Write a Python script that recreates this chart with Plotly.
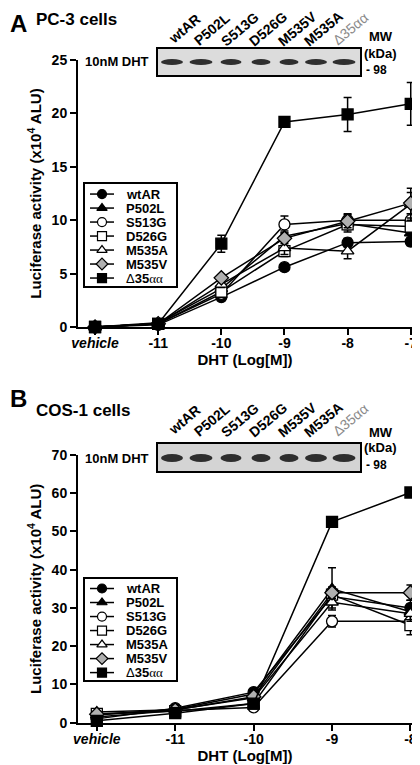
import plotly.graph_objects as go

W, H = 420, 765
# the page puts the figure 8 px in from the top-left corner; layout below
# is written in window pixels and shifted back by this amount
OFF = 8

# --- data -------------------------------------------------------------
doses_a = ["vehicle", "-11", "-10", "-9", "-8", "-7"]
doses_b = ["vehicle", "-11", "-10", "-9", "-8"]
names = ["wtAR", "P502L", "S513G", "D526G", "M535A", "M535V", "Δ35αα"]

# PC-3 cells (x10^4 ALU)
pc3_wtAR = [0.0, 0.2, 2.8, 5.6, 7.9, 8.0]
pc3_P502L = [0.0, 0.4, 3.6, 8.5, 9.7, 8.8]
pc3_S513G = [0.0, 0.3, 3.1, 9.6, 10.0, 10.0]
pc3_D526G = [0.0, 0.3, 3.3, 7.1, 9.6, 9.4]
pc3_M535A = [0.0, 0.3, 4.0, 7.4, 7.1, 11.5]
pc3_M535V = [0.0, 0.3, 4.6, 8.3, 9.9, 11.6]
pc3_D35 = [0.0, 0.3, 7.8, 19.2, 19.9, 20.9]

pc3_err_wtAR = [0.05, 0.1, 0.3, 0.3, 0.4, 0.4]
pc3_err_P502L = [0.05, 0.1, 0.4, 0.5, 0.6, 0.8]
pc3_err_S513G = [0.05, 0.1, 0.3, 0.8, 0.6, 0.6]
pc3_err_D526G = [0.05, 0.1, 0.3, 0.5, 0.7, 0.8]
pc3_err_M535A = [0.05, 0.1, 0.3, 0.6, 0.7, 1.5]
pc3_err_M535V = [0.05, 0.1, 0.3, 0.5, 0.6, 1.0]
pc3_err_D35 = [0.05, 0.1, 0.8, 0.3, 1.6, 2.0]

# COS-1 cells (x10^4 ALU)
cos_wtAR = [1.0, 3.8, 8.0, 33.0, 30.0]
cos_P502L = [2.0, 3.5, 7.5, 35.0, 29.0]
cos_S513G = [1.5, 3.2, 4.0, 26.5, 26.5]
cos_D526G = [2.3, 3.0, 5.0, 33.5, 25.5]
cos_M535A = [2.8, 3.4, 6.5, 31.5, 28.5]
cos_M535V = [2.2, 3.3, 6.8, 34.0, 34.0]
cos_D35 = [0.5, 2.5, 5.0, 52.5, 60.2]

cos_err_wtAR = [0.3, 0.4, 0.6, 2.0, 2.0]
cos_err_P502L = [0.3, 0.4, 0.6, 5.5, 2.0]
cos_err_S513G = [0.3, 0.4, 0.5, 1.5, 1.5]
cos_err_D526G = [0.3, 0.4, 0.5, 1.5, 2.5]
cos_err_M535A = [0.3, 0.4, 0.5, 1.5, 2.0]
cos_err_M535V = [0.3, 0.4, 0.5, 1.5, 2.0]
cos_err_D35 = [0.3, 0.4, 0.6, 1.2, 1.2]

lanes = ["wtAR", "P502L", "S513G", "D526G", "M535V", "M535A", "Δ35αα"]

pc3 = [pc3_wtAR, pc3_P502L, pc3_S513G, pc3_D526G, pc3_M535A, pc3_M535V, pc3_D35]
pc3_err = [pc3_err_wtAR, pc3_err_P502L, pc3_err_S513G, pc3_err_D526G,
           pc3_err_M535A, pc3_err_M535V, pc3_err_D35]
cos = [cos_wtAR, cos_P502L, cos_S513G, cos_D526G, cos_M535A, cos_M535V, cos_D35]
cos_err = [cos_err_wtAR, cos_err_P502L, cos_err_S513G, cos_err_D526G,
           cos_err_M535A, cos_err_M535V, cos_err_D35]

# --- styles -----------------------------------------------------------
FONT = "Liberation Sans"
styles = [
    dict(symbol="circle", color="black"),
    dict(symbol="triangle-up", color="black"),
    dict(symbol="circle", color="white"),
    dict(symbol="square", color="white"),
    dict(symbol="triangle-up", color="white"),
    dict(symbol="diamond", color="#b0b0b0"),
    dict(symbol="square", color="black"),
]
legend_names = ["<b>%s</b>" % n for n in names[:-1]] + [
    "Δ<b>35</b><span style='font-family:serif'>αα</span>"
]


def px(x):
    return (x - OFF) / W


def py(y):
    return 1 - (y - OFF) / H


fig = go.Figure()


def add_panel(doses, values, errors, xa, ya):
    for i in range(len(names)):
        st = styles[i]
        fig.add_trace(go.Scatter(
            x=doses, y=values[i], name=names[i], mode="lines+markers",
            line=dict(color="black", width=1.5),
            marker=dict(symbol=st["symbol"], color=st["color"], size=11,
                        line=dict(color="black", width=1.3)),
            error_y=dict(type="data", array=errors[i], color="black",
                         thickness=1.5, width=4),
            cliponaxis=False, showlegend=False, xaxis=xa, yaxis=ya))


add_panel(doses_a, pc3, pc3_err, "x", "y")
add_panel(doses_b, cos, cos_err, "x2", "y2")

# hand-drawn legend boxes (legend rows are 14 px apart, like the figure)
ann = []
shapes = []


def add_legend(xa, ya, box_left, box_top, box_bottom):
    for k in range(len(names)):
        st = styles[k]
        fig.add_trace(go.Scatter(
            x=[6, 18, 30], y=[k, k, k], mode="lines+markers",
            line=dict(color="black", width=1.5),
            marker=dict(symbol=st["symbol"], color=st["color"], size=9,
                        opacity=[0, 1, 0], line=dict(color="black", width=1.2)),
            hoverinfo="skip", showlegend=False, xaxis=xa, yaxis=ya,
            cliponaxis=False))
        ann.append(dict(text=legend_names[k], x=40, y=k, xref=xa, yref=ya,
                        xanchor="left", yanchor="middle", showarrow=False,
                        font=dict(family=FONT, size=13, color="black")))
    shapes.append(dict(type="rect", xref="paper", yref="paper",
                       x0=px(box_left), x1=px(box_left + 93),
                       y0=py(box_bottom), y1=py(box_top),
                       line=dict(color="black", width=2)))


axis_common = dict(showline=True, linecolor="black", linewidth=2,
                   ticks="outside", ticklen=6, tickwidth=2, tickcolor="black",
                   showgrid=False, zeroline=False, automargin=False,
                   tickfont=dict(family=FONT, size=14, color="black", weight="bold"))
hidden = dict(visible=False, showgrid=False, zeroline=False, automargin=False)
ticktext_a = ["<i>vehicle</i>"] + doses_a[1:]
ticktext_b = ["<i>vehicle</i>"] + doses_b[1:]
ytitle = "Luciferase activity (x10<sup>4</sup> ALU)"
title_font = dict(family=FONT, size=15, color="black", weight="bold")

fig.update_layout(
    width=W, height=H,
    margin=dict(l=0, r=0, t=0, b=0, autoexpand=False),
    plot_bgcolor="white", paper_bgcolor="white", showlegend=False,
    xaxis=dict(axis_common, domain=[px(78), px(412)], anchor="y",
               type="category", range=[-0.27, 5.02], ticklabelstandoff=-4,
               tickvals=doses_a, ticktext=ticktext_a,
               title=dict(text="DHT (Log[M])", font=title_font, standoff=2)),
    yaxis=dict(axis_common, domain=[py(327), py(60)], anchor="x",
               range=[0, 25], tickvals=[0, 5, 10, 15, 20, 25],
               title=dict(text=ytitle, font=title_font, standoff=6)),
    xaxis2=dict(axis_common, domain=[px(78), px(412)], anchor="y2",
                type="category", range=[-0.24, 4.02], ticklabelstandoff=-4,
                tickvals=doses_b, ticktext=ticktext_b,
                title=dict(text="DHT (Log[M])", font=title_font, standoff=0)),
    yaxis2=dict(axis_common, domain=[py(722.7), py(455)], anchor="x2",
                range=[0, 70], tickvals=[0, 10, 20, 30, 40, 50, 60, 70],
                title=dict(text=ytitle, font=title_font, standoff=6)),
    xaxis3=dict(hidden, domain=[px(84), px(177)], anchor="y3", range=[0, 93]),
    yaxis3=dict(hidden, domain=[py(287), py(183)], anchor="x3",
                range=[6.64, -0.79]),
    xaxis4=dict(hidden, domain=[px(84), px(177)], anchor="y4", range=[0, 93]),
    yaxis4=dict(hidden, domain=[py(681), py(578)], anchor="x4",
                range=[6.6, -0.75]),
)

add_legend("x3", "y3", 84, 183, 287)
add_legend("x4", "y4", 84, 578, 681)

# --- panel labels, asterisks ------------------------------------------
heads = [("<b>A</b>", 8, 8, 24), ("<b>PC-3 cells</b>", 34, 8, 17),
         ("<b>B</b>", 8, 383, 24), ("<b>COS-1 cells</b>", 34, 399, 17)]
for txt, hx, hy, fs in heads:
    ann.append(dict(text=txt, x=px(hx), y=py(hy), xref="paper", yref="paper",
                    xanchor="left", yanchor="top", showarrow=False,
                    font=dict(family=FONT, size=fs, color="black")))

ann.append(dict(text="<b>*</b>", x="-8", y=pc3_D35[4] + pc3_err_D35[4],
                xref="x", yref="y", yanchor="bottom", yshift=0, showarrow=False,
                font=dict(family=FONT, size=16, color="black")))
ann.append(dict(text="<b>*</b>", x="-8", y=cos_D35[4] + cos_err_D35[4],
                xref="x2", yref="y2", yanchor="bottom", yshift=10, showarrow=False,
                font=dict(family=FONT, size=16, color="black")))

# --- western blot insets (drawn as shapes) -----------------------------
band_off = [15, 44, 74, 104, 132, 159, 187]
band_w = [22, 23, 21, 19, 19, 22, 23]
label_off = [27, 55, 83, 111, 140, 166, 193]
blots = [dict(top=48, bottom=76, band_y=62, band_h=6, lab_y=29, fill="#dcdcdc"),
         dict(top=443, bottom=472, band_y=458, band_h=8, lab_y=420, fill="#d4d4d4")]
left, right = 157, 361
for b in blots:
    shapes.append(dict(type="rect", xref="paper", yref="paper",
                       x0=px(left), x1=px(right), y0=py(b["bottom"]), y1=py(b["top"]),
                       fillcolor=b["fill"], line=dict(color="black", width=2)))
    for k in range(len(lanes)):
        cx = left + band_off[k]
        hw = band_w[k] / 2
        hh = b["band_h"] / 2
        shapes.append(dict(type="circle", xref="paper", yref="paper",
                           x0=px(cx - hw), x1=px(cx + hw),
                           y0=py(b["band_y"] + hh), y1=py(b["band_y"] - hh),
                           fillcolor="#1c1c1c", line=dict(width=0), opacity=0.9))
        lab_font = dict(family=FONT, size=14, color="black", weight="bold")
        if lanes[k] == "Δ35αα":
            lab_font = dict(family=FONT, size=14, color="#8a8a8a")
        ann.append(dict(text=lanes[k], x=px(left + label_off[k]), y=py(b["lab_y"]),
                        xref="paper", yref="paper", xanchor="center",
                        yanchor="middle", textangle=-40, showarrow=False,
                        font=lab_font))
    ann.append(dict(text="<b>10nM DHT</b>", x=px(151), y=py(b["band_y"]),
                    xref="paper", yref="paper", xanchor="right", yanchor="middle",
                    showarrow=False, font=dict(family=FONT, size=13, color="black")))
    ann.append(dict(text="<b>MW</b>", x=px(381), y=py(b["top"] - 11), xref="paper",
                    yref="paper", xanchor="center", yanchor="middle",
                    showarrow=False, font=dict(family=FONT, size=13, color="black")))
    ann.append(dict(text="<b>(kDa)</b>", x=px(362), y=py(b["top"] + 5), xref="paper",
                    yref="paper", xanchor="left", yanchor="middle",
                    showarrow=False, font=dict(family=FONT, size=13, color="black")))
    ann.append(dict(text="<b>- 98</b>", x=px(364), y=py(b["top"] + 22), xref="paper",
                    yref="paper", xanchor="left", yanchor="middle",
                    showarrow=False, font=dict(family=FONT, size=12, color="black")))

fig.update_layout(annotations=ann, shapes=shapes)
fig.write_html("out.html")
